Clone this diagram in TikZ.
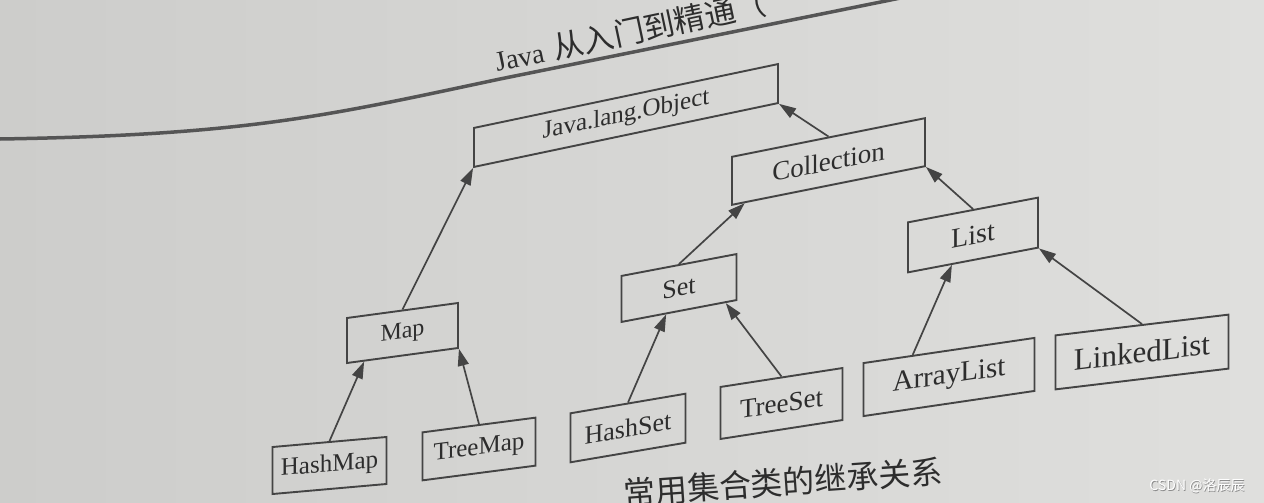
\documentclass[tikz,border=0pt]{standalone}
\usepackage{fontspec}
\setmainfont{Liberation Serif}
\newfontfamily\cjk{Noto Sans CJK SC}
\usetikzlibrary{arrows.meta,calc}
\definecolor{bgl}{RGB}{205,205,203}
\definecolor{bgr}{RGB}{223,223,221}
\definecolor{txtc}{RGB}{45,45,45}
\definecolor{boxc}{RGB}{68,68,68}
\definecolor{rulec}{RGB}{85,85,85}
\newcommand{\fz}[1]{\fontsize{#1}{#1}\selectfont}
\tikzset{
  cls/.style={draw=boxc, line width=1.9pt, inner sep=0pt, text=txtc, fill=none},
  conn/.style={draw=boxc, line width=1.7pt, -{Triangle[length=17pt,width=11pt]}},
}
\begin{document}
\begin{tikzpicture}[x=1pt,y=-1pt]
\useasboundingbox (0,0) rectangle (1264,503);
\shade[left color=bgl, right color=bgr] (0,0) rectangle (1264,503);
\clip (0,0) rectangle (1264,503);
% header rule and running title
\draw[rulec, line width=3.5pt] (0,139) .. controls (250,135) and (330,115) .. (500,79) -- (940,-10);
\node[rotate=12, anchor=base west, text=txtc, inner sep=0pt] (hdr) at (497,72) {\fz{28}Java\hspace{10pt}{\cjk\fz{31}从入门到精通（}};
% class boxes
\node[cls, minimum width=304pt, minimum height=39pt, yslant=0.21, font=\fz{25}] (obj) at (626,115.5) {Java.lang.Object};
\node[cls, minimum width=193pt, minimum height=48pt, yslant=0.20, font=\fz{27}] (col) at (828.5,161.5) {Collection};
\node[cls, minimum width=130pt, minimum height=50pt, yslant=0.19, font=\fz{28}] (lst) at (973,235) {List};
\node[cls, minimum width=115pt, minimum height=46pt, yslant=0.19, font=\fz{26}] (set) at (679,288) {Set};
\node[cls, minimum width=111pt, minimum height=45pt, yslant=0.135, font=\fz{24}] (map) at (402.5,333) {Map};
\node[cls, minimum width=114pt, minimum height=47pt, yslant=0.088, font=\fz{25}] (hmap) at (329.5,465.5) {HashMap};
\node[cls, minimum width=113pt, minimum height=48pt, yslant=0.13, font=\fz{25}] (tmap) at (479,449) {TreeMap};
\node[cls, minimum width=115pt, minimum height=49pt, yslant=0.17, font=\fz{26}] (hset) at (628,428) {HashSet};
\node[cls, minimum width=122pt, minimum height=52pt, yslant=0.155, font=\fz{27}] (tset) at (781.5,403.5) {TreeSet};
\node[cls, minimum width=171pt, minimum height=53pt, yslant=0.147, font=\fz{29}] (alist) at (949,377) {ArrayList};
\node[cls, minimum width=173pt, minimum height=54pt, yslant=0.12, font=\fz{31}] (llist) at (1142,352) {LinkedList};
% inheritance connectors
\draw[conn] (map.north) -- (obj.south west);
\draw[conn] (col.north) -- (obj.south east);
\draw[conn] (set.north) -- ($(col.south west)!0.07!(col.south east)$);
\draw[conn] (lst.north) -- (col.south east);
\draw[conn] (hmap.north) -- ($(map.south west)!0.16!(map.south east)$);
\draw[conn] (tmap.north) -- (map.south east);
\draw[conn] (hset.north) -- ($(set.south west)!0.39!(set.south east)$);
\draw[conn] (tset.north) -- ($(set.south west)!0.9!(set.south east)$);
\draw[conn] ($(alist.north west)!0.29!(alist.north east)$) -- ($(lst.south west)!0.34!(lst.south east)$);
\draw[conn] (llist.north) -- (lst.south east);
% caption
\node[rotate=4, text=txtc, inner sep=0pt, font=\cjk\fz{32}] (cap) at (783,482) {常用集合类的继承关系};
% watermark
\node[text=black!45, inner sep=0pt, font=\cjk\fz{14}] (wmshadow) at (1197.8,486.8) {CSDN @洛辰辰};
\node[text=white, inner sep=0pt, font=\cjk\fz{14}] (wm) at (1197,486) {CSDN @洛辰辰};
\end{tikzpicture}
\end{document}
